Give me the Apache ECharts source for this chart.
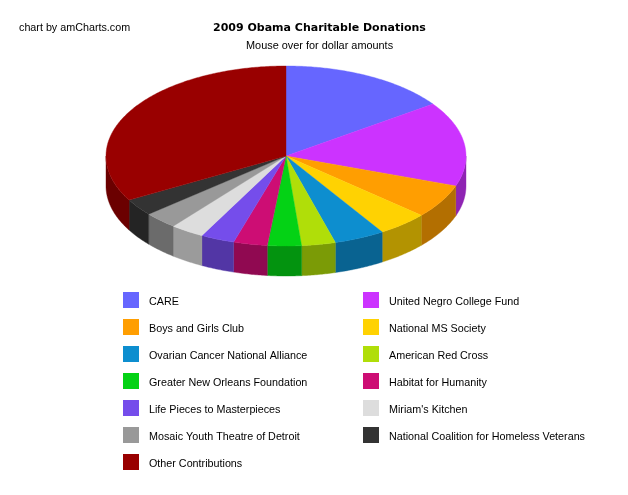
<!DOCTYPE html>
<html>
<head>
<meta charset="utf-8">
<style>html,body{margin:0;padding:0;background:#fff}#c{width:628px;height:495px}</style>
<script src="https://cdn.jsdelivr.net/npm/echarts@6/dist/echarts.min.js"></script>
</head>
<body>
<div id="c"></div>
<script>
const categories = ["CARE","United Negro College Fund","Boys and Girls Club","National MS Society","Ovarian Cancer National Alliance","American Red Cross","Greater New Orleans Foundation","Habitat for Humanity","Life Pieces to Masterpieces","Miriam's Kitchen","Mosaic Youth Theatre of Detroit","National Coalition for Homeless Veterans","Other Contributions"];
const donations = [50000,50000,20000,15000,15000,10000,10000,10000,10000,10000,10000,10000,109100];
const colors = ["#6666FF","#CC33FF","#FF9E01","#FFD202","#0D8ECF","#B0DE09","#04D215","#CD0D74","#754DEB","#DDDDDD","#999999","#333333","#990000"];

const CX = 286, CY = 156, RX = 180, RY = 90, DEPTH = 30, WALL_SHADE = 0.7;
const total = donations.reduce((a, b) => a + b, 0);
let running = 0;
const rows = donations.map(v => { const r = [v, running]; running += v; return r; });

const toAngle = v => v / total * 2 * Math.PI;           // clockwise from 12 o'clock
const rim = (a, dy) => [CX + RX * Math.sin(a), CY - RY * Math.cos(a) + (dy || 0)];
function arc(a0, a1, dy) {
  const n = Math.max(2, Math.ceil((a1 - a0) / 0.01)), pts = [];
  for (let i = 0; i <= n; i++) pts.push(rim(a0 + (a1 - a0) * i / n, dy));
  return pts;
}
function shade(hex, f) {
  const n = parseInt(hex.slice(1), 16);
  const c = s => Math.round(((n >> s) & 255) * f);
  return "rgb(" + c(16) + "," + c(8) + "," + c(0) + ")";
}

const renderTop = (params, api) => {
  const a0 = toAngle(api.value(1)), a1 = toAngle(api.value(1) + api.value(0));
  const fill = api.visual("color");
  return { type: "polygon", shape: { points: [[CX, CY]].concat(arc(a0, a1)) },
           style: { fill: fill, stroke: fill, lineWidth: 0.4 } };
};
const renderWall = (params, api) => {
  const a0 = Math.max(toAngle(api.value(1)), Math.PI / 2);
  const a1 = Math.min(toAngle(api.value(1) + api.value(0)), 3 * Math.PI / 2);
  if (a1 <= a0) return null;
  const fill = shade(colors[params.dataIndex], WALL_SHADE);
  return { type: "polygon", shape: { points: arc(a0, a1).concat(arc(a0, a1, DEPTH).reverse()) },
           style: { fill: fill, stroke: fill, lineWidth: 0.4 } };
};

const series = [{ type: "custom", name: "walls", coordinateSystem: "none", z: 1, silent: true,
                  renderItem: renderWall, data: rows, tooltip: { show: false } }];
categories.forEach((name, i) => series.push({
  type: "custom", name: name, coordinateSystem: "none", z: 2,
  renderItem: renderTop, data: [rows[i]], itemStyle: { color: colors[i] }
}));

const FONT = "Liberation Sans";
const legendBase = { orient: "vertical", top: 292, padding: 0, itemWidth: 16, itemHeight: 16, itemGap: 11,
  icon: "rect", selectedMode: false,
  formatter: name => "{a|" + name + "}",
  textStyle: { fontFamily: FONT, fontSize: 10.75, color: "#000",
    rich: { a: { fontFamily: FONT, fontSize: 10.75, color: "#000", padding: [4, 0, 0, 5] } } } };

const chart = echarts.init(document.getElementById("c"), null, { renderer: "canvas" });
chart.setOption({
  animation: false,
  backgroundColor: "#fff",
  tooltip: { trigger: "item", formatter: p => p.seriesName + ": $" + p.value[0].toLocaleString("en-US") },
  title: [
    { text: "chart by amCharts.com", left: 19, top: 23, padding: 0, textStyle: { fontFamily: FONT, fontSize: 10.75, fontWeight: "normal", color: "#000" } },
    { text: "2009 Obama Charitable Donations", left: 213, top: 23, padding: 0, textStyle: { fontFamily: "DejaVu Sans", fontSize: 11, fontWeight: "bold", color: "#000" } },
    { text: "Mouse over for dollar amounts", left: 246, top: 40, padding: 0, textStyle: { fontFamily: FONT, fontSize: 10.9, fontWeight: "normal", color: "#000" } }
  ],
  legend: [
    Object.assign({}, legendBase, { left: 123, data: categories.filter((c, i) => i % 2 === 0) }),
    Object.assign({}, legendBase, { left: 363, data: categories.filter((c, i) => i % 2 === 1) })
  ],
  series: series
});
</script>
</body>
</html>
